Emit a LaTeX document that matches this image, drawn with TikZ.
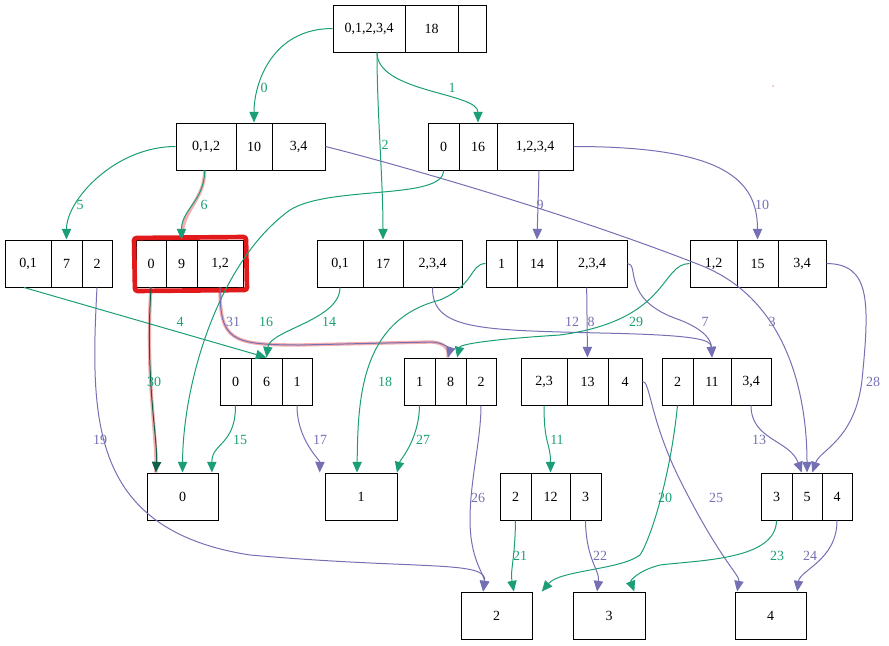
\documentclass[tikz,border=0pt]{standalone}
\usepackage{fontspec}
\setmainfont{Liberation Serif}
\usetikzlibrary{arrows.meta}
\definecolor{gr}{HTML}{1B9E77}
\definecolor{pu}{HTML}{7570B3}
\definecolor{hl}{HTML}{E31A1C}
\begin{document}
\begin{tikzpicture}[x=0.75pt,y=-0.75pt,
  cell/.style={draw,line width=0.75pt,inner sep=0pt,minimum height=47*0.75pt,font=\fontsize{10.5}{12}\selectfont},
  g/.style={draw=gr,line width=0.75pt,-{Triangle[length=8pt,width=7pt]},fill=none},
  p/.style={draw=pu,line width=0.75pt,-{Triangle[length=8pt,width=7pt]},fill=none},
  lg/.style={text=gr,font=\fontsize{10.5}{12}\selectfont,inner sep=1pt},
  lp/.style={text=pu,font=\fontsize{10.5}{12}\selectfont,inner sep=1pt},
  red/.style={draw=hl!60,line width=2.5pt,opacity=0.6}]
\useasboundingbox (0,0) rectangle (889,646);
\newcommand{\cel}[6]{\node[cell,minimum width={(#3-#2)*0.75pt}] (#1) at ({(#2+#3)/2},{#4+23.5}) {#5#6};}
% top
\cel{R1}{333}{405}{5}{0,1,2,3,4}{}\cel{R2}{405}{458}{5}{18}{}\cel{R3}{458}{486}{5}{}{}
\cel{A1}{176}{236}{123}{0,1,2}{}\cel{A2}{236}{272}{123}{10}{}\cel{A3}{272}{325}{123}{3,4}{}
\cel{B1}{428}{459}{123}{0}{}\cel{B2}{459}{497}{123}{16}{}\cel{B3}{497}{573}{123}{1,2,3,4}{}
\cel{C1}{5}{51}{240}{0,1}{}\cel{C2}{51}{82}{240}{7}{}\cel{C3}{82}{112}{240}{2}{}
\cel{D1}{136}{166}{240}{0}{}\cel{D2}{166}{197}{240}{9}{}\cel{D3}{197}{243}{240}{1,2}{}
\cel{E1}{317}{363}{240}{0,1}{}\cel{E2}{363}{403}{240}{17}{}\cel{E3}{403}{462}{240}{2,3,4}{}
\cel{F1}{486}{517}{240}{1}{}\cel{F2}{517}{557}{240}{14}{}\cel{F3}{557}{627}{240}{2,3,4}{}
\cel{G1}{690}{737}{240}{1,2}{}\cel{G2}{737}{778}{240}{15}{}\cel{G3}{778}{826}{240}{3,4}{}
\cel{H1}{220}{251}{358}{0}{}\cel{H2}{251}{282}{358}{6}{}\cel{H3}{282}{312}{358}{1}{}
\cel{I1}{404}{435}{358}{1}{}\cel{I2}{435}{466}{358}{8}{}\cel{I3}{466}{496}{358}{2}{}
\cel{J1}{521}{567}{358}{2,3}{}\cel{J2}{567}{608}{358}{13}{}\cel{J3}{608}{642}{358}{4}{}
\cel{K1}{662}{693}{358}{2}{}\cel{K2}{693}{731}{358}{11}{}\cel{K3}{731}{771}{358}{3,4}{}
\cel{L}{147}{218}{473}{0}{}
\cel{M}{325}{397}{473}{1}{}
\cel{N1}{500}{531}{473}{2}{}\cel{N2}{531}{570}{473}{12}{}\cel{N3}{570}{601}{473}{3}{}
\cel{O1}{761}{792}{473}{3}{}\cel{O2}{792}{822}{473}{5}{}\cel{O3}{822}{852}{473}{4}{}
\cel{P}{461}{532}{592}{2}{}
\cel{Q}{573}{645}{592}{3}{}
\cel{S}{735}{806}{592}{4}{}
% red overlays
\path[red] ([xshift=-1]A1.south) .. controls +(0,30) and +(0,-30) .. (D2.north);
\path[red] (D1.south) .. controls (145,380) and (158,440) .. ([xshift=-20]L.north);
\path[red] (D3.south) .. controls (220,340) and (230,345) .. (300,345) -- (430,342) .. controls (445,342) and (450,350) .. ([xshift=-2]I2.north);
\draw[hl,line width=3.5pt,rounded corners=2pt] (134,238) -- (246,237) -- (247,290) -- (135,291) -- cycle;
% edges
\draw[g] (R1.west) .. controls +(-60,0) and +(0,-40) .. (A2.north);
\draw[g] ([xshift=6]R1.south) .. controls +(0,40) and +(0,-30) .. (B2.north);
\draw[g] ([xshift=6]R1.south) .. controls +(0,60) and +(0,-60) .. (E2.north);
\draw[g] (A1.west) .. controls +(-60,0) and +(0,-40) .. (C2.north);
\draw[g] ([xshift=-1]A1.south) .. controls +(0,30) and +(0,-30) .. (D2.north);
\draw[p] (A3.east) .. controls (380,160) and (560,210) .. (700,265) .. controls (790,300) and (807,400) .. (O2.north);
\draw[g] (B1.south) .. controls +(0,30) and (330,185) .. (290,210) .. controls (220,260) and (183,380) .. (L.north);
\draw[p] ([xshift=3]B3.south) -- (F2.north);
\draw[p] (B3.east) .. controls +(150,0) and +(0,-60) .. (G2.north);
\draw[g] ([xshift=-3]C1.south) -- (H2.north);
\draw[p] (C3.south) .. controls (90,420) and (90,530) .. (250,555) .. controls (420,570) and (488,560) .. ([xshift=-10]P.north);
\draw[draw=gr!60!black,line width=0.75pt,-{Triangle[length=8pt,width=7pt]}] (D1.south) .. controls (145,380) and (158,440) .. ([xshift=-20]L.north);
\draw[p] (D3.south) .. controls (220,340) and (230,345) .. (300,345) -- (430,342) .. controls (445,342) and (450,350) .. ([xshift=-2]I2.north);
\draw[g] (E1.south) .. controls (340,320) and (270,330) .. (H2.north);
\draw[p] (E3.south) .. controls (432,330) and (480,330) .. (600,333) .. controls (700,335) and (711,340) .. (K2.north);
\draw[g] (F1.west) .. controls (470,264) and (475,285) .. (440,300) .. controls (360,320) and (358,400) .. ([xshift=-3]M.north);
\draw[p] ([xshift=-4]F3.south) -- (J2.north);
\draw[p] (F3.east) .. controls (640,264) and (620,300) .. (680,320) .. controls (705,330) and (711,340) .. (K2.north);
\draw[g] (G1.west) .. controls (660,264) and (670,320) .. (560,335) .. controls (480,340) and (460,345) .. ([xshift=5]I2.north);
\draw[p] (G3.east) .. controls (870,264) and (870,300) .. (862,380) .. controls (855,440) and (820,450) .. ([xshift=4]O2.north);
\draw[g] (H1.south) .. controls +(0,40) and +(0,-30) .. ([xshift=22]L.north);
\draw[p] (H3.south) .. controls (297,440) and (320,460) .. ([xshift=-31]M.north);
\draw[g] (I1.south) .. controls (419,440) and (400,460) .. ([xshift=27]M.north);
\draw[p] (I3.south) .. controls (481,440) and (470,480) .. (470,520) .. controls (470,560) and (485,575) .. ([xshift=-10]P.north);
\draw[g] (J1.south) .. controls +(0,40) and +(0,-30) .. (N2.north);
\draw[p] (J3.east) .. controls (650,380) and (650,420) .. (680,480) .. controls (720,560) and (740,575) .. ([xshift=-25]S.north);
\draw[g] (K1.south) .. controls (670,480) and (650,540) .. (640,555) .. controls (620,570) and (560,570) .. ([xshift=34]P.north);
\draw[p] (K3.south) .. controls (751,440) and (790,440) .. ([xshift=-4]O2.north);
\draw[g] (N1.south) .. controls (515,560) and (510,570) .. ([xshift=13]P.north);
\draw[p] (N3.south) .. controls (586,560) and (600,570) .. ([xshift=-9]Q.north);
\draw[g] (O1.south) .. controls (776,560) and (700,560) .. (660,565) .. controls (640,570) and (630,580) .. ([xshift=19]Q.north);
\draw[p] (O3.south) .. controls (837,560) and (800,570) .. ([xshift=20]S.north);
% labels
\node[lg] (l0) at (264,88) {0}; \node[lg] (l1) at (452,88) {1}; \node[lg] (l2) at (385,145) {2};
\node[lg] (l5) at (80,205) {5}; \node[lg] (l6) at (204,205) {6}; \node[lp] (l9) at (540,205) {9};
\node[lp] (l10) at (762,205) {10};
\node[lg] (l4) at (180,322) {4}; \node[lp] (l31) at (233,322) {31}; \node[lg] (l16) at (266,322) {16};
\node[lg] (l14) at (329,322) {14}; \node[lp] (l12) at (572,322) {12}; \node[lp] (l8) at (591,322) {8};
\node[lg] (l29) at (636,322) {29}; \node[lp] (l7) at (705,322) {7}; \node[lp] (l3) at (772,322) {3};
\node[lg] (l30) at (154,382) {30}; \node[lg] (l18) at (385,382) {18}; \node[lp] (l28) at (873,382) {28};
\node[lp] (l19) at (100,440) {19}; \node[lg] (l15) at (240,440) {15}; \node[lp] (l17) at (320,440) {17};
\node[lg] (l27) at (423,440) {27}; \node[lg] (l11) at (557,440) {11}; \node[lp] (l13) at (759,440) {13};
\node[lp] (l26) at (478,498) {26}; \node[lg] (l20) at (665,498) {20}; \node[lp] (l25) at (716,498) {25};
\node[lg] (l21) at (520,556) {21}; \node[lp] (l22) at (600,556) {22}; \node[lg] (l23) at (777,556) {23};
\node[lp] (l24) at (810,556) {24};
\fill[hl!40] (773,86) circle (1);
\end{tikzpicture}
\end{document}
